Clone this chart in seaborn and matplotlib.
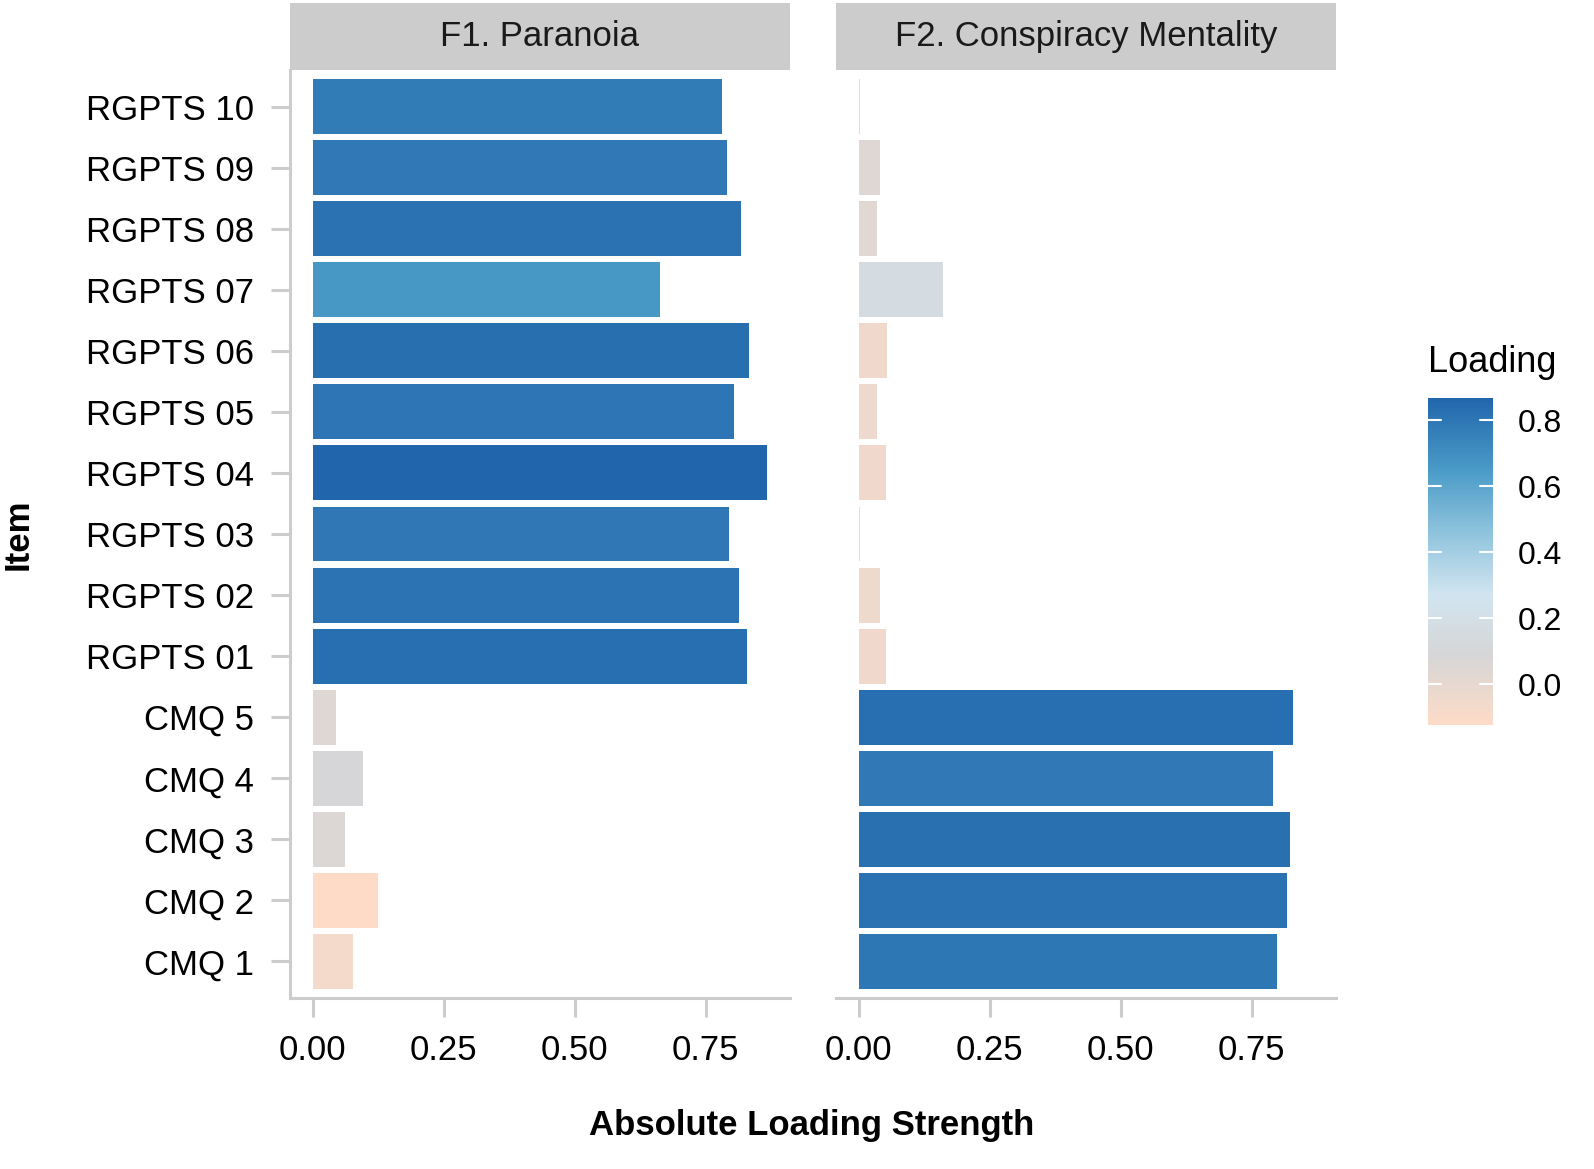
#plot_loadings.py

import pandas as pd
import seaborn as sns
import matplotlib.pyplot as plt
from matplotlib.colors import LinearSegmentedColormap, Normalize
from matplotlib.cm import ScalarMappable

#items, top to bottom as they appear in the chart
items = ["RGPTS 10", "RGPTS 09", "RGPTS 08", "RGPTS 07", "RGPTS 06",
         "RGPTS 05", "RGPTS 04", "RGPTS 03", "RGPTS 02", "RGPTS 01",
         "CMQ 5", "CMQ 4", "CMQ 3", "CMQ 2", "CMQ 1"]

#signed loadings
f1_loadings = [0.781, 0.790, 0.817, 0.662, 0.832, 0.805, 0.868, 0.794, 0.813, 0.828,
               0.044, 0.095, 0.061, -0.124, -0.076]
f2_loadings = [-0.002, 0.040, 0.034, 0.160, -0.053, -0.034, -0.052, -0.002, -0.040, -0.052,
               0.829, 0.790, 0.823, 0.817, 0.798]

factors = ["F1. Paranoia", "F2. Conspiracy Mentality"]
cbar_ticks = [0.0, 0.2, 0.4, 0.6, 0.8]

#long table
df = pd.DataFrame({
    "item": items * 2,
    "factor": [factors[0]] * len(items) + [factors[1]] * len(items),
    "loading": f1_loadings + f2_loadings,
})
df["abs_loading"] = df["loading"].abs()

#colour scale
vmin, vmax = df["loading"].min(), df["loading"].max()
nodes = [(-0.124, "#FDDBC7"), (0.09, "#D6D6D7"), (0.27, "#D1E5F0"),
         (0.45, "#92C5DE"), (0.65, "#4A9BC8"), (0.868, "#2166AC")]
cmap = LinearSegmentedColormap.from_list(
    "load", [((v - vmin) / (vmax - vmin), c) for v, c in nodes])
norm = Normalize(vmin, vmax)

sns.set_theme(style="white")
plt.rcParams["font.family"] = ["Liberation Sans", "DejaVu Sans"]
plt.rcParams["text.color"] = "black"

W, H = 1594, 1169
fig = plt.figure(figsize=(W / 100, H / 100), dpi=100)

grey = "#CCCCCC"
panel_x = [290, 836]
for i, fac in enumerate(factors):
    sub = df[df["factor"] == fac]
    ax = fig.add_axes([panel_x[i] / W, 1 - 998 / H, 500 / W, 928 / H])
    pal = {it: cmap(norm(v)) for it, v in zip(sub["item"], sub["loading"])}
    sns.barplot(data=sub, x="abs_loading", y="item", hue="item", palette=pal,
                order=items, legend=False, width=0.9, saturation=1,
                linewidth=0, orient="h", ax=ax)
    ax.set_xlim(-0.0434, 0.911)
    ax.set_ylim(len(items) - 0.4, -0.6)
    ax.set_xticks([0, 0.25, 0.5, 0.75])
    ax.set_xticklabels(["0.00", "0.25", "0.50", "0.75"])
    ax.set_xlabel("")
    ax.set_ylabel("")
    for s in ["top", "right"]:
        ax.spines[s].set_visible(False)
    ax.spines["bottom"].set_color(grey)
    ax.spines["bottom"].set_linewidth(2.2)
    ax.tick_params(axis="x", length=14, width=2.2, color=grey, pad=12,
                   labelsize=25, labelcolor="black", bottom=True)
    if i == 0:
        ax.spines["left"].set_color(grey)
        ax.spines["left"].set_linewidth(2.2)
        ax.tick_params(axis="y", length=14, width=2.2, color=grey, pad=12,
                       labelsize=25, labelcolor="black", left=True)
    else:
        ax.spines["left"].set_visible(False)
        ax.set_yticks([])

    #facet strip
    sax = fig.add_axes([panel_x[i] / W, 1 - 70 / H, 500 / W, 67 / H])
    sax.set_facecolor(grey)
    sax.set_xticks([])
    sax.set_yticks([])
    for s in sax.spines.values():
        s.set_visible(False)
    sax.text(0.5, 0.5, fac, ha="center", va="center", fontsize=25,
             color="#1A1A1A", transform=sax.transAxes)

#axis titles
fig.text(812 / W, 1 - 1126 / H, "Absolute Loading Strength", ha="center",
         va="center", fontsize=25, fontweight="bold")
fig.text(18 / W, 1 - 534 / H, "Item", ha="center", va="center",
         rotation=90, fontsize=25, fontweight="bold")

#colour bar
cax = fig.add_axes([1428 / W, 1 - 725 / H, 65 / W, 327 / H])
cb = fig.colorbar(ScalarMappable(norm=norm, cmap=cmap), cax=cax, ticks=cbar_ticks)
cb.outline.set_visible(False)
cb.ax.set_yticklabels([f"{t:.1f}" for t in cbar_ticks])
cb.ax.tick_params(length=0, labelsize=23, pad=18, labelcolor="black")
for t in cbar_ticks:
    cax.plot([0, 0.2], [t, t], color="white", lw=1.5)
    cax.plot([0.8, 1], [t, t], color="white", lw=1.5)
cax.set_xlim(0, 1)
fig.text(1428 / W, 1 - 362 / H, "Loading", ha="left", va="center", fontsize=26)

plt.savefig("out.png", dpi=100)
